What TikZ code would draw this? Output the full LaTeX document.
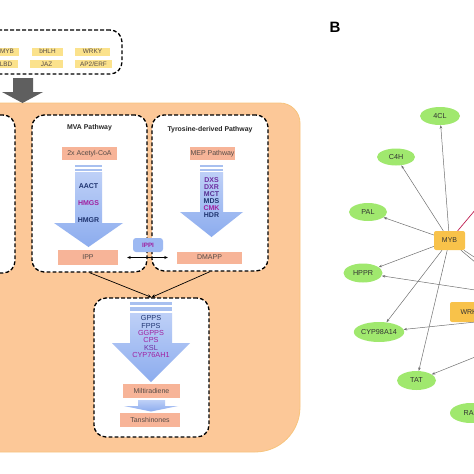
\documentclass[tikz,border=0pt]{standalone}
\usepackage{fontspec}
\setmainfont{Liberation Sans}
\usetikzlibrary{arrows.meta,shapes.geometric}
\definecolor{peach}{RGB}{252,200,152}
\definecolor{peachedge}{RGB}{247,196,125}
\definecolor{yel}{RGB}{251,226,140}
\definecolor{salmon}{RGB}{247,180,152}
\definecolor{bluebar}{RGB}{168,192,240}
\definecolor{bluetop}{RGB}{190,208,247}
\definecolor{bluebot}{RGB}{140,172,238}
\definecolor{ippiblue}{RGB}{157,185,242}
\definecolor{navy}{RGB}{31,52,112}
\definecolor{purp}{RGB}{160,32,160}
\definecolor{mpurp}{RGB}{110,44,160}
\definecolor{txtgray}{RGB}{85,75,70}
\definecolor{arrowgray}{RGB}{95,95,95}
\definecolor{gfill}{RGB}{160,232,110}
\definecolor{ofill}{RGB}{248,194,74}
\definecolor{edgegray}{RGB}{110,110,110}
\definecolor{redge}{RGB}{190,30,80}
\begin{document}
\begin{tikzpicture}[x=1pt,y=-1pt,
  dbox/.style={draw=black, line width=1.3pt, dash pattern=on 3.8pt off 2.2pt, rounded corners=12pt, fill=white, inner sep=0pt},
  ybox/.style={fill=yel, minimum height=8pt, inner sep=0pt, font=\fontsize{6.4}{6.4}\selectfont, text=txtgray},
  sbox/.style={fill=salmon, inner sep=0pt, font=\fontsize{7}{7}\selectfont, text=txtgray},
  ttl/.style={font=\bfseries\fontsize{6.9}{6.9}\selectfont, text=black!85, inner sep=0pt},
  enz/.style={font=\bfseries\fontsize{7}{7}\selectfont, inner sep=0pt},
  enzb/.style={font=\fontsize{7.3}{7.3}\selectfont, inner sep=0pt},
  blueshade/.style={top color=bluetop, bottom color=bluebot},
  bar/.style={fill=bluebar},
  gnode/.style={ellipse, fill=gfill, minimum width=39pt, minimum height=19pt, inner sep=0pt, font=\fontsize{7.2}{7.2}\selectfont, text=black!80},
  onode/.style={fill=ofill, rounded corners=2pt, minimum width=31pt, minimum height=19pt, inner sep=0pt, font=\fontsize{7}{7}\selectfont, text=black!80},
  edge/.style={draw=edgegray, line width=0.5pt, -{Stealth[length=3.5pt,width=2.6pt]}},
  blk/.style={draw=black, line width=0.7pt}
]
\useasboundingbox (0,0) rectangle (474,474);
\clip (0,0) rectangle (474,474);

% ---------- Panel A ----------
% regulators box
\node[dbox, minimum width=162pt, minimum height=44pt] (reg) at (41,52) {};
\node[ybox, minimum width=24pt] (ymyb) at (7,51.5) {MYB};
\node[ybox, minimum width=31pt] (ybhlh) at (47.5,51.5) {bHLH};
\node[ybox, minimum width=35pt] (ywrky) at (92.5,51.5) {WRKY};
\node[ybox, minimum width=24pt] (ylbd) at (6,64) {LBD};
\node[ybox, minimum width=33pt] (yjaz) at (46.5,64) {JAZ};
\node[ybox, minimum width=37pt] (yap) at (93.5,64) {AP2/ERF};

% orange background
\fill[peach, draw=peachedge, line width=0.8pt] (-40,103) -- (280,103) .. controls (291,103) and (300,112) .. (300,123) -- (300,407) .. controls (300,432) and (280,452) .. (255,452) -- (-40,452) -- cycle;

% big gray arrow
\fill[arrowgray] (13,78) -- (33,78) -- (33,92) -- (43,92) -- (22.5,103) -- (2,92) -- (13,92) -- cycle;

% dashed boxes
\node[dbox, minimum width=60pt, minimum height=158pt] (leftbox) at (-15,194) {};
\node[dbox, minimum width=115pt, minimum height=157pt] (mva) at (89.5,193.5) {};
\node[dbox, minimum width=116pt, minimum height=156pt] (tyr) at (210,193) {};
\node[dbox, minimum width=115pt, minimum height=139pt] (bot) at (151.5,367.5) {};

% MVA pathway
\node[ttl] (mvat) at (89.5,128) {MVA Pathway};
\node[sbox, minimum width=55pt, minimum height=13pt] (acet) at (89.5,153.5) {2x Acetyl-CoA};
\fill[bar] (75,165) rectangle (102,167);
\fill[bar] (75,168.5) rectangle (102,170.5);
\shade[blueshade] (75,172) -- (102,172) -- (102,223) -- (123,223) -- (88.5,247) -- (54,223) -- (75,223) -- cycle;
\node[enz, text=navy] (aact) at (88.5,186) {AACT};
\node[enz, text=purp] (hmgs) at (88.5,203) {HMGS};
\node[enz, text=navy] (hmgr) at (88.5,220) {HMGR};
\node[sbox, minimum width=60pt, minimum height=15pt] (ipp) at (88,257.5) {IPP};

% Tyrosine-derived pathway
\node[ttl] (tyrt) at (210,130) {Tyrosine-derived Pathway};
\node[sbox, minimum width=45pt, minimum height=13pt] (mep) at (212.5,153.5) {MEP Pathway};
\fill[bar] (200,165) rectangle (223,167);
\fill[bar] (200,168.5) rectangle (223,170.5);
\shade[blueshade] (200,172) -- (223,172) -- (223,212) -- (243,212) -- (211.5,237) -- (180,212) -- (200,212) -- cycle;
\node[enz, text=mpurp] (dxs) at (211.5,180) {DXS};
\node[enz, text=mpurp] (dxr) at (211.5,187) {DXR};
\node[enz, text=mpurp!70!navy] (mct) at (211.5,194) {MCT};
\node[enz, text=navy] (mds) at (211.5,201) {MDS};
\node[enz, text=purp] (cmk) at (211.5,208) {CMK};
\node[enz, text=navy] (hdr) at (211.5,215) {HDR};
\node[sbox, minimum width=65pt, minimum height=12pt] (dmapp) at (209.5,257.5) {DMAPP};

% IPPI
\draw[blk, {Stealth[length=3.5pt,width=3pt]}-{Stealth[length=3.5pt,width=3pt]}] ([xshift=9pt]ipp.east) -- ([xshift=-9pt]dmapp.west);
\node[fill=ippiblue, rounded corners=3pt, minimum width=30pt, minimum height=14pt, inner sep=0pt, font=\bfseries\fontsize{6.3}{6.3}\selectfont, text=purp] (ippi) at (148,245) {IPPI};

% converging arrows
\draw[blk, -{Stealth[length=4pt,width=3.5pt]}] (mva.south) -- (bot.north);
\draw[blk, -{Stealth[length=4pt,width=3.5pt]}] (tyr.south) -- (bot.north);

% bottom box
\fill[bar] (130,302) rectangle (172,304.5);
\fill[bar] (130,307) rectangle (172,311);
\shade[blueshade] (130,313) -- (172,313) -- (172,343) -- (190,343) -- (151,382) -- (112,343) -- (130,343) -- cycle;
\node[enzb, text=navy] (gpps) at (151,318) {GPPS};
\node[enzb, text=navy] (fpps) at (151,325.5) {FPPS};
\node[enzb, text=purp] (ggpps) at (151,333) {GGPPS};
\node[enzb, text=purp] (cps) at (151,340) {CPS};
\node[enzb, text=mpurp] (ksl) at (151,347.5) {KSL};
\node[enzb, text=purp] (cyp76) at (151,355) {CYP76AH1};
\node[sbox, minimum width=57pt, minimum height=14pt] (milt) at (151.5,391) {Miltiradiene};
\shade[blueshade] (138,400) -- (165,400) -- (165,406) -- (178,406) -- (151,411.5) -- (124,406) -- (138,406) -- cycle;
\node[sbox, minimum width=60pt, minimum height=14pt] (tansh) at (150,420) {Tanshinones};

% ---------- Panel B ----------
\node[font=\bfseries\fontsize{15}{15}\selectfont, inner sep=0pt] (lblB) at (335,27) {B};

\node[gnode, minimum width=40pt, minimum height=18pt] (n4cl) at (440,116) {4CL};
\node[gnode, minimum width=38pt, minimum height=17pt] (c4h) at (396,157) {C4H};
\node[gnode, minimum width=38pt, minimum height=18pt] (pal) at (368,212) {PAL};
\node[gnode] (hppr) at (363,273) {HPPR};
\node[gnode, minimum width=41pt, minimum height=20pt] (cyp98) at (379,332) {CYP98A14};
\node[gnode] (tat) at (416.5,380.5) {TAT};
\node[gnode, minimum width=42pt, minimum height=20pt] (ras) at (471,413) {RAS};
\node[onode] (myb) at (449.5,240.5) {MYB};
\node[onode, minimum width=42pt, minimum height=20pt] (wrky) at (471,312) {WRKY};

\coordinate (offa) at (495,293);
\coordinate (offb) at (495,320);
\coordinate (offc) at (495,349);
\coordinate (offd) at (495,271);
\coordinate (offe) at (495,279);
\coordinate (offr) at (492,190);

\draw[edge] (myb) -- (n4cl);
\draw[edge] (myb) -- (c4h);
\draw[edge] (myb) -- (pal);
\draw[edge] (myb) -- (hppr);
\draw[edge] (myb) -- (cyp98);
\draw[edge] (myb) -- (tat);
\draw[draw=edgegray, line width=0.5pt] (myb) -- (offd);
\draw[draw=edgegray, line width=0.5pt] (myb) -- (offe);
\draw[draw=redge, line width=0.7pt] (myb) -- (offr);
\draw[edge] (offa) -- (hppr);
\draw[edge] (offb) -- (cyp98);
\draw[edge] (offc) -- (tat);
\end{tikzpicture}
\end{document}
